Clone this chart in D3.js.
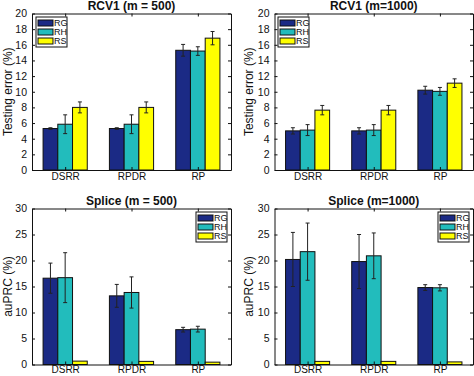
<!DOCTYPE html>
<html lang="en">
  <head>
    <meta charset="UTF-8" />
    <title>RCV1 / Splice grouped bars</title>
    <script src="https://d3js.org/d3.v7.min.js"></script>
    <style>
      body {
        margin: 0;
        background: white;
      }
      svg {
        display: block;
        font-family: 'Liberation Sans', Arial, sans-serif;
      }
    </style>
  </head>
  <body>
    <svg width="474" height="376"></svg>

    <script>
      const groups = ['DSRR', 'RPDR', 'RP'];
      const series = ['RG', 'RH', 'RS'];
      const colors = ['#1b2a85', '#22bcbc', '#ffff00'];

      // values per group: [RG, RH, RS]
      const rcv500Mean = [[5.3, 5.85, 8.0], [5.3, 5.85, 8.0], [15.3, 15.2, 16.85]];
      const rcv500Err = [[0.1, 1.2, 0.7], [0.1, 1.2, 0.7], [0.75, 0.55, 0.85]];
      const rcv1000Mean = [[5.0, 5.1, 7.65], [5.0, 5.1, 7.65], [10.2, 10.05, 11.1]];
      const rcv1000Err = [[0.4, 0.7, 0.6], [0.4, 0.7, 0.6], [0.5, 0.5, 0.55]];
      const splice500Mean = [[16.6, 16.7, 0.65], [13.2, 13.85, 0.6], [6.7, 6.8, 0.45]];
      const splice500Err = [[2.9, 4.8, 0], [2.2, 3.0, 0], [0.45, 0.55, 0]];
      const splice1000Mean = [[20.2, 21.7, 0.6], [19.8, 20.9, 0.6], [14.8, 14.75, 0.5]];
      const splice1000Err = [[5.2, 5.5, 0], [5.2, 4.4, 0], [0.55, 0.6, 0]];
      const rcvTicks = [0, 2, 4, 6, 8, 10, 12, 14, 16, 18, 20];
      const spliceTicks = [0, 5, 10, 15, 20, 25, 30];

      const svg = d3.select('svg');

      function panel(opt) {
        const g = svg.append('g');
        const x = d3.scaleLinear().domain([0.5, 3.5]).range([opt.left, opt.right]);
        const y = d3.scaleLinear().domain([0, opt.ymax]).range([opt.bottom, opt.top]);
        const bw = x(0.222) - x(0);

        // bars
        opt.mean.forEach((vals, gi) => {
          vals.forEach((v, si) => {
            const cx = x(gi + 1) + (si - 1) * bw;
            g.append('rect')
              .attr('x', cx - bw / 2)
              .attr('y', y(v))
              .attr('width', bw)
              .attr('height', y(0) - y(v))
              .attr('fill', colors[si])
              .attr('stroke', '#111')
              .attr('stroke-width', 1);
            const e = opt.err[gi][si];
            if (e > 0) {
              g.append('line')
                .attr('x1', cx).attr('x2', cx)
                .attr('y1', y(v - e)).attr('y2', y(v + e))
                .attr('stroke', '#222').attr('stroke-width', 1);
              [v - e, v + e].forEach((t) => {
                g.append('line')
                  .attr('x1', cx - 2).attr('x2', cx + 2)
                  .attr('y1', y(t)).attr('y2', y(t))
                  .attr('stroke', '#222').attr('stroke-width', 1);
              });
            }
          });
        });

        // axes (matlab style: box, inward ticks)
        g.append('g')
          .attr('transform', `translate(${opt.left},0)`)
          .call(d3.axisLeft(y).tickValues(opt.ticks).tickSizeInner(-3).tickSizeOuter(0).tickPadding(5))
          .call((a) => a.selectAll('text').attr('font-size', 10.5).attr('fill', '#111'));
        g.append('g')
          .attr('transform', `translate(${opt.right},0)`)
          .call(d3.axisRight(y).tickValues(opt.ticks).tickSizeInner(-3).tickSizeOuter(0).tickFormat(''));
        g.append('g')
          .attr('transform', `translate(0,${opt.bottom})`)
          .call(d3.axisBottom(x).tickValues([1, 2, 3]).tickSizeInner(-3).tickSizeOuter(0).tickPadding(opt.xPad)
            .tickFormat((d) => groups[d - 1]))
          .call((a) => a.selectAll('text').attr('font-size', 10).attr('fill', '#111'));
        g.append('g')
          .attr('transform', `translate(0,${opt.top})`)
          .call(d3.axisTop(x).tickValues([1, 2, 3]).tickSizeInner(-3).tickSizeOuter(0).tickFormat(''));
        g.selectAll('.domain').attr('stroke', '#111');
        g.selectAll('.tick line').attr('stroke', '#111');

        // title and y label
        g.append('text')
          .attr('x', (opt.left + opt.right) / 2)
          .attr('y', opt.top - 4)
          .attr('text-anchor', 'middle')
          .attr('font-size', 12)
          .attr('font-weight', 'bold')
          .attr('fill', '#111')
          .text(opt.title);
        g.append('text')
          .attr('transform', `translate(${opt.labelX},${(opt.top + opt.bottom) / 2}) rotate(-90)`)
          .attr('text-anchor', 'middle')
          .attr('dy', '0.35em')
          .attr('font-size', 12)
          .attr('fill', '#111')
          .text(opt.ylabel);

        // legend
        const lg = g.append('g').attr('transform', `translate(${opt.legX},${opt.top + 3.5})`);
        lg.append('rect')
          .attr('width', 31).attr('height', 30)
          .attr('fill', 'white').attr('stroke', '#111');
        series.forEach((s, i) => {
          lg.append('rect')
            .attr('x', 2).attr('y', 3 + i * 9)
            .attr('width', 15).attr('height', 6)
            .attr('fill', colors[i]).attr('stroke', '#111');
          lg.append('text')
            .attr('x', 18).attr('y', 9 + i * 9)
            .attr('font-size', 9)
            .attr('fill', '#111')
            .text(s);
        });
      }

      panel({ left: 32, right: 231, top: 13.5, bottom: 170, ymax: 20, ticks: rcvTicks,
        mean: rcv500Mean, err: rcv500Err, title: 'RCV1 (m = 500)', ylabel: 'Testing error (%)',
        labelX: 8, legX: 36, xPad: 3 });
      panel({ left: 274.5, right: 473, top: 13.5, bottom: 170, ymax: 20, ticks: rcvTicks,
        mean: rcv1000Mean, err: rcv1000Err, title: 'RCV1 (m=1000)', ylabel: 'Testing error (%)',
        labelX: 249, legX: 278, xPad: 3 });
      panel({ left: 32, right: 231, top: 208.5, bottom: 364.5, ymax: 30, ticks: spliceTicks,
        mean: splice500Mean, err: splice500Err, title: 'Splice (m = 500)', ylabel: 'auPRC (%)',
        labelX: 8, legX: 196, xPad: 1.5 });
      panel({ left: 274.5, right: 473, top: 208.5, bottom: 364.5, ymax: 30, ticks: spliceTicks,
        mean: splice1000Mean, err: splice1000Err, title: 'Splice (m=1000)', ylabel: 'auPRC (%)',
        labelX: 249, legX: 438, xPad: 1.5 });
    </script>
  </body>
</html>
